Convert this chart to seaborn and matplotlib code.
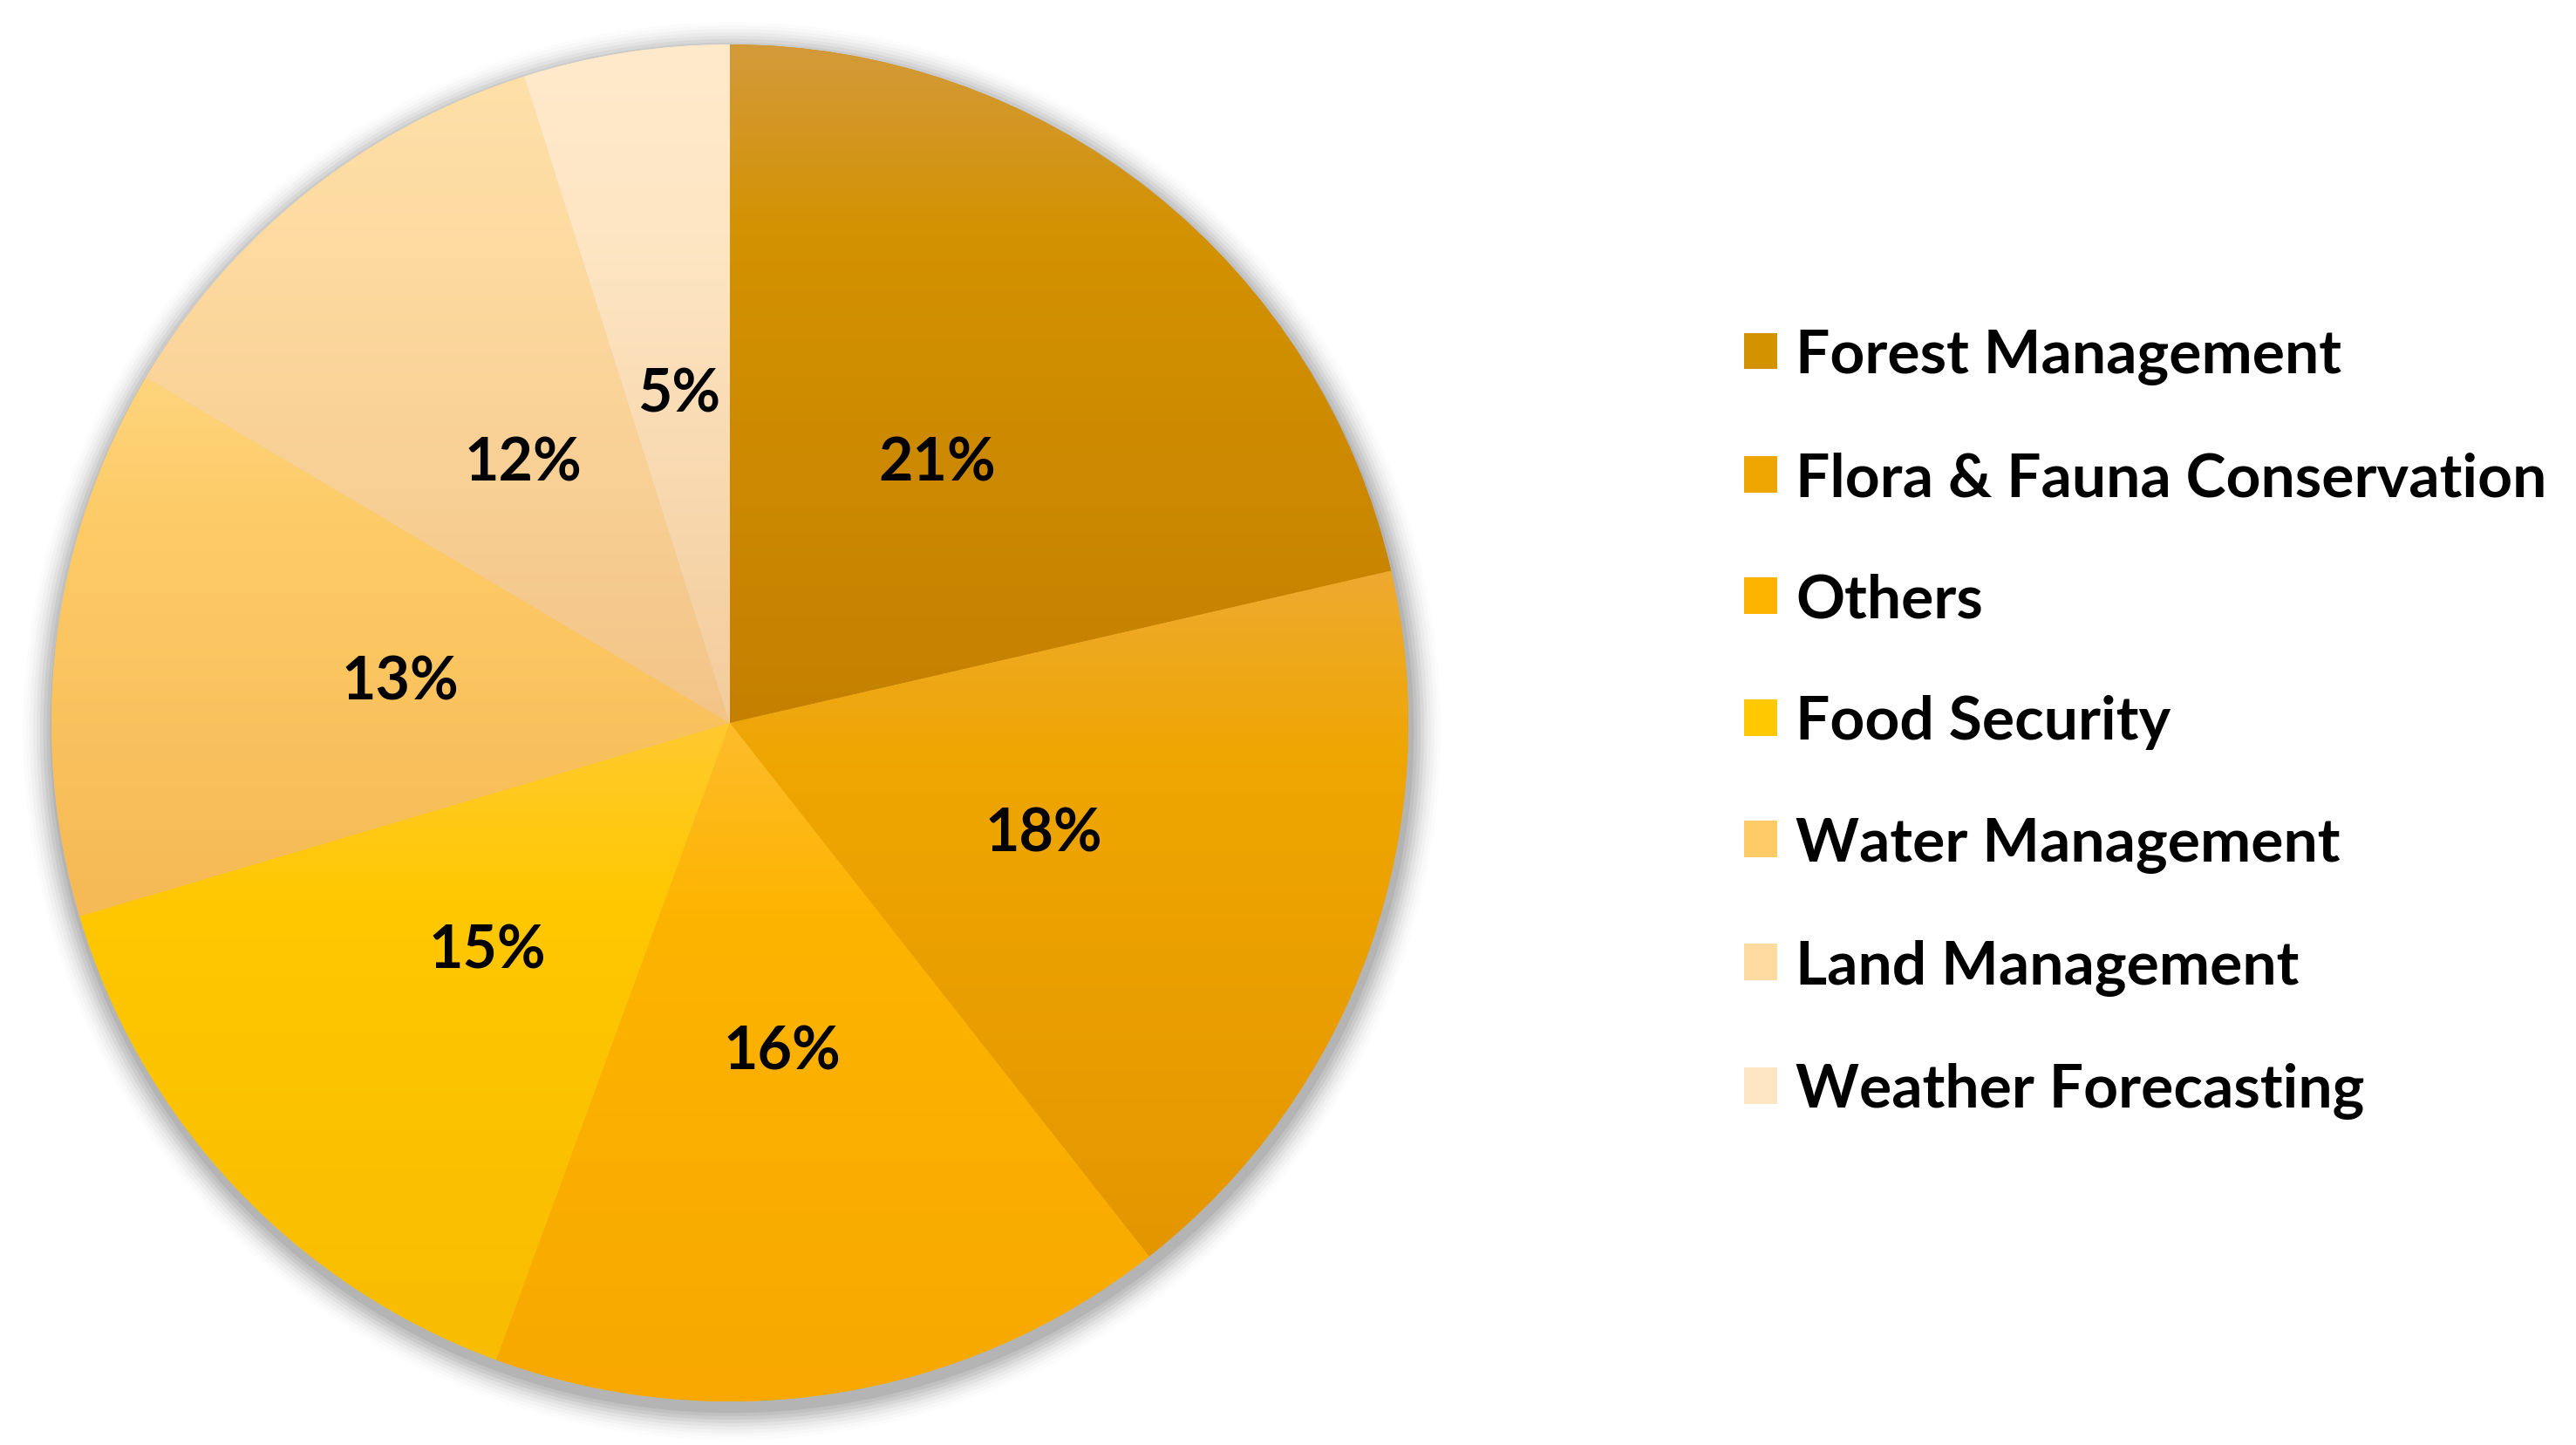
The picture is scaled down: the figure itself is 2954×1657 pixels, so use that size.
import numpy as np
import matplotlib
matplotlib.use("Agg")
import matplotlib.pyplot as plt
import matplotlib.colors as mcolors
from matplotlib.patches import Patch, Circle
import seaborn as sns

# datos del grafico
categorias = ['Forest Management', 'Flora & Fauna Conservation', 'Others',
              'Food Security', 'Water Management', 'Land Management',
              'Weather Forecasting']
porcentajes = [21.4, 18.0, 16.2, 14.8, 13.1, 11.6, 4.9]

# degradado de cada sector: arriba, color principal, abajo
color_arriba = ['#D39A3A', '#EEAA30', '#FDBC2A', '#FFCA30', '#FDD47C', '#FEE0A8', '#FEEACB']
color_medio = ['#D39200', '#EFA600', '#FDB400', '#FFC800', '#FECB66', '#FDDAA0', '#FEE6C4']
color_abajo = ['#C58000', '#E49600', '#F8A800', '#F8BC00', '#F5B955', '#F3C488', '#F3CC9C']

sns.set_style("white")
plt.rcParams['font.family'] = ['Lato', 'DejaVu Sans']
plt.rcParams['font.weight'] = 'bold'
plt.rcParams['text.color'] = 'black'

fig = plt.figure(figsize=(29.54, 16.58), dpi=100)
W, H = 2954, 1658
cx, cy, R = 837, 830, 778
L = 1.06
ax = fig.add_axes([(cx - L * R) / W, (H - cy - L * R) / H, 2 * L * R / W, 2 * L * R / H])

# sombra suave detras del pie
for i, a in enumerate(np.linspace(0.06, 0.01, 9)):
    ax.add_patch(Circle((0.003, -0.012), 1.0 + 0.005 * (i + 1), color='black', alpha=a,
                        lw=0, zorder=0))

wedges, textos, autotextos = ax.pie(
    porcentajes, startangle=90, counterclock=False, colors=color_medio,
    autopct='%.0f%%', pctdistance=0.49, radius=1.0,
    wedgeprops=dict(linewidth=0), textprops=dict(fontsize=49, weight='bold', color='black'))

for t in autotextos:
    t.set_zorder(5)

# degradado vertical en cada sector
for w, c1, cm, c2 in zip(wedges, color_arriba, color_medio, color_abajo):
    verts = w.get_path().vertices
    x0, x1 = verts[:, 0].min(), verts[:, 0].max()
    y0, y1 = verts[:, 1].min(), verts[:, 1].max()
    cmap = mcolors.LinearSegmentedColormap.from_list('g', [(0, c2), (0.72, cm), (1, c1)])
    grad = np.linspace(0, 1, 256).reshape(-1, 1)
    im = ax.imshow(grad, cmap=cmap, extent=[x0, x1, y0, y1], origin='lower',
                   aspect='auto', zorder=2, interpolation='bilinear')
    im.set_clip_path(w)

ax.set_xlim(-L, L)
ax.set_ylim(-L, L)
ax.set_aspect('equal')
ax.axis('off')

handles = [Patch(facecolor=c, edgecolor='none') for c in color_medio]
leg = fig.legend(handles, categorias, loc='center left', bbox_to_anchor=(0.677, 0.499),
                 frameon=False, fontsize=50, handlelength=0.55, handleheight=0.55,
                 handletextpad=0.3, labelspacing=1.1, borderpad=0, borderaxespad=0)
for t in leg.get_texts():
    t.set_color('black')

fig.savefig('out.png', dpi=100, facecolor='white')
